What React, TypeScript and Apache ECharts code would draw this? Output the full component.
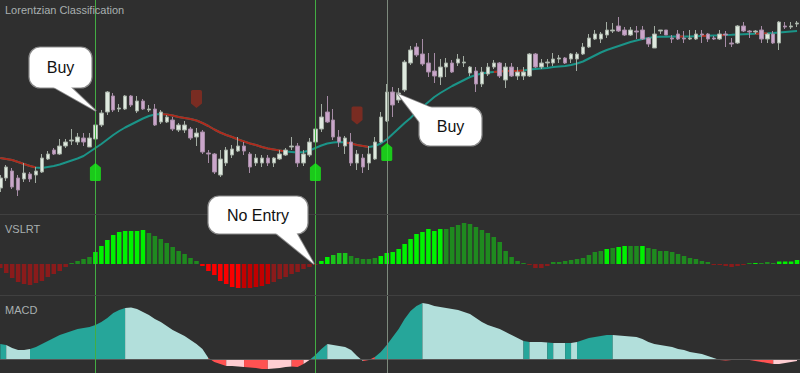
import React, { useEffect, useRef } from "react";
import * as echarts from "echarts";

// ---------- Price pane (OHLC) ----------
const opens = [
  62, 72, 79, 72, 71, 76, 75, 78, 91, 100,
  96, 104, 109, 108, 112, 103, 111, 125, 138, 154,
  141, 141, 154, 139, 149, 140, 141, 128, 128, 130,
  120, 120, 121, 113, 118, 97, 96, 75, 87, 95,
  99, 104, 96, 87, 87, 92, 87, 91, 95, 103,
  104, 87, 95, 108, 121, 138, 130, 113, 104, 108,
  87, 92, 87, 91, 108, 129, 158, 150, 160, 187,
  203, 196, 187, 179, 173, 183, 187, 187, 187, 177,
  179, 166, 176, 183, 187, 170, 183, 174, 174, 174,
  196, 183, 187, 187, 191, 192, 191, 191, 196, 203,
  211, 211, 215, 219, 224, 220, 215, 219, 220, 212,
  202, 219, 220, 212, 216, 212, 211, 211, 216, 216,
  212, 211, 216, 207, 207, 224, 219, 218, 220, 211,
  216, 207, 224, 223, 226,
];
const closes = [
  72, 83, 63, 60, 77, 71, 79, 92, 96, 96,
  104, 108, 110, 113, 108, 112, 125, 137, 158, 140,
  142, 154, 145, 149, 141, 141, 125, 138, 133, 121,
  125, 125, 112, 117, 98, 96, 78, 91, 100, 101,
  104, 99, 83, 92, 92, 87, 92, 96, 100, 104,
  87, 96, 108, 121, 133, 128, 113, 108, 112, 87,
  96, 83, 96, 108, 133, 158, 145, 157, 188, 200,
  195, 186, 178, 174, 183, 187, 178, 191, 188, 183,
  166, 178, 183, 187, 174, 183, 174, 178, 178, 196,
  183, 187, 188, 191, 192, 187, 196, 196, 203, 212,
  216, 216, 220, 220, 219, 215, 220, 218, 211, 206,
  216, 220, 215, 211, 211, 211, 212, 216, 215, 211,
  211, 216, 215, 206, 224, 219, 218, 219, 211, 216,
  207, 228, 223, 224, 227,
];
const highs = [
  75, 85, 82, 75, 87, 78, 83, 96, 99, 102,
  111, 111, 121, 117, 117, 117, 126, 140, 159, 157,
  146, 155, 155, 154, 151, 145, 146, 140, 135, 133,
  127, 129, 123, 122, 120, 100, 97, 100, 103, 105,
  113, 108, 98, 96, 95, 95, 93, 100, 102, 113,
  107, 100, 112, 127, 146, 154, 141, 120, 114, 117,
  100, 96, 104, 113, 138, 166, 163, 162, 190, 204,
  207, 211, 197, 197, 191, 192, 190, 196, 194, 184,
  183, 183, 187, 190, 188, 187, 187, 183, 183, 197,
  197, 191, 191, 197, 195, 193, 197, 198, 207, 216,
  220, 218, 228, 227, 233, 223, 223, 224, 224, 213,
  224, 220, 220, 215, 220, 219, 220, 220, 220, 217,
  214, 220, 219, 212, 225, 228, 220, 220, 224, 217,
  219, 229, 228, 228, 229,
];
const lows = [
  58, 69, 61, 54, 68, 68, 67, 77, 90, 95,
  95, 102, 105, 105, 104, 103, 108, 123, 135, 138,
  138, 140, 143, 137, 140, 138, 124, 126, 127, 119,
  118, 117, 110, 104, 96, 87, 76, 73, 84, 92,
  98, 95, 77, 84, 83, 84, 83, 90, 94, 100,
  83, 84, 93, 107, 118, 127, 110, 103, 96, 84,
  80, 77, 80, 90, 107, 128, 133, 147, 158, 185,
  193, 184, 173, 167, 165, 173, 177, 184, 183, 174,
  158, 163, 174, 181, 172, 162, 173, 170, 170, 173,
  182, 181, 183, 184, 187, 186, 187, 179, 195, 202,
  210, 207, 212, 217, 218, 214, 214, 211, 210, 203,
  202, 216, 215, 207, 210, 207, 210, 210, 207, 208,
  210, 210, 203, 203, 206, 218, 212, 216, 207, 207,
  206, 200, 221, 221, 223,
];
const maValues = [
  92, 91, 90, 88, 86, 84, 82.5, 82, 83, 84,
  85.5, 87.5, 89.5, 91.5, 94, 98, 102, 106, 110.5, 115,
  119, 122.5, 125.5, 128.5, 131.5, 134, 135.5, 136, 135.5, 134.5,
  133, 132, 131, 129.5, 127, 124, 120.5, 117.5, 115, 113,
  110.5, 108.5, 106.5, 105, 103, 101.5, 100.5, 99.5, 98.5, 98,
  97.5, 98, 99.5, 102, 104.5, 106.5, 107.5, 108, 107.5, 106.5,
  105, 104, 103, 104, 106.5, 110.5, 116, 121.5, 127, 132,
  138, 143, 148, 153, 157, 160.5, 164, 167, 170, 173,
  175, 176.5, 177.5, 178, 178.5, 179, 179, 179, 179.5, 180.5,
  181, 181.5, 182, 183, 183.5, 184, 185, 186.5, 188.5, 191.5,
  194.5, 197.5, 200, 202, 204, 206, 208, 209.5, 211, 212,
  213, 213.2, 213.3, 213.4, 213.5, 213.5, 213.6, 213.8, 214, 214.2,
  214.5, 214.7, 215, 215.2, 215.5, 215.8, 216, 216.2, 216.5, 216.8,
  217, 217.5, 218, 218.5, 219,
];
// intervals [start, end] (segment i -> i+1) where the MA is red
const maRedRuns = [
  [0, 5], [27, 47], [58, 61], [83, 87], [114, 114], [118, 118], [121, 121], [127, 128],
];
const buySignals = [16, 53, 65];
const buyMarkerPrices = [78, 78, 98];
const sellSignals = [33, 60];
const sellMarkerPrices = [151, 134.5];
// which buy signals get a bright green guide line (the others a grey one)
const greenGuideSignals = [16, 53];
const greyGuideSignals = [65];

// ---------- VSLRT pane ----------
const vslrtValues = [
  -4, -9, -14, -18, -20, -21, -19, -17, -13, -10,
  -7, -3, 1, 3, 5, 7, 12, 18, 24, 29,
  32, 33, 33, 33, 34, 31, 28, 25, 21, 17,
  13, 10, 6, 3, -2, -7, -11, -17, -20, -23,
  -24, -24, -24, -23, -22, -20, -18, -15, -13, -10,
  -8, -5, -3, -1, 3, 7, 9, 11, 11, 8,
  6, 5, 5, 6, 8, 11, 12, 15, 20, 25,
  30, 32, 35, 33, 35, 35, 37, 39, 41, 40,
  37, 34, 31, 27, 22, 13, 7, 3, 1, -1,
  -4, -4, -2, 2, 2, 3, 4, 5, 6, 9,
  12, 13, 15, 16, 17, 18, 18, 18, 18, 16,
  15, 13, 13, 12, 10, 8, 6, 5, 3, 2,
  -1, -1, -2, -3, -2, -1, 0.5, 1, 1, 2,
  1, 2.5, 2.5, 2.5, 4,
];
const vslrtColorRuns: [string, number, number][] = [
  ["r", 0, 11], ["g", 12, 15], ["G", 16, 24], ["g", 25, 33], ["R", 34, 40], ["m", 41, 45],
  ["r", 46, 53], ["G", 54, 55], ["h", 56, 58], ["g", 59, 63], ["G", 64, 74], ["g", 75, 88],
  ["r", 89, 92], ["g", 93, 101], ["G", 102, 102], ["g", 103, 103], ["G", 104, 105],
  ["g", 106, 107], ["G", 108, 108], ["g", 109, 119], ["r", 120, 125], ["G", 126, 127],
  ["g", 128, 130], ["G", 131, 134],
];

// ---------- MACD pane ----------
const macdValues = [
  15, 14, 11, 9, 9, 10, 12, 15, 18, 21,
  24, 26, 28, 30, 31, 32, 34, 37, 41, 46,
  49, 51, 51.5, 50, 47, 44, 40, 37, 33, 29,
  26, 23, 19, 15, 10, 1, -3, -5, -7, -7,
  -7.5, -8, -8.5, -9, -10, -10, -9.5, -9, -8, -7.5,
  -8, -5, -1, 4, 10, 15, 14, 13, 12, 9,
  3, -2, -1, 2, 7, 14, 22, 30, 40, 48,
  53, 56, 55, 53, 52, 51, 50, 49, 47, 45,
  41, 37, 34, 32, 30, 27, 24, 21, 18, 17,
  17, 17, 16.5, 16, 16, 16, 16, 17, 19, 21,
  22, 23, 24, 24, 23.5, 23, 22.5, 22, 20, 17,
  15, 14, 13, 12, 10, 9, 7, 6, 5, 3,
  1, -1, -1.5, -1, -1, -0.5, -1, -2, -3, -4,
  -5, -5, -4, -3, -2,
];
const macdColorRuns: [string, number, number][] = [
  ["D", 0, 0], ["L", 1, 4], ["D", 5, 20], ["L", 21, 34], ["R", 35, 37], ["P", 38, 40],
  ["R", 41, 44], ["P", 45, 48], ["R", 49, 50], ["P", 51, 51], ["D", 52, 54], ["L", 55, 60],
  ["R", 61, 62], ["D", 63, 70], ["L", 71, 87], ["D", 88, 88], ["L", 89, 91], ["D", 92, 92],
  ["L", 93, 94], ["D", 95, 95], ["L", 96, 96], ["D", 97, 102], ["L", 103, 120],
  ["R", 121, 122], ["P", 123, 125], ["R", 126, 129], ["P", 130, 133],
];

const categories = opens.map((_, i) => String(i + 1));

const vslrtPalette: Record<string, string> = {
  G: "#00f200", h: "#1bc41b", g: "#1f8a1f", R: "#fa0000", m: "#c20000", r: "#8a1b1b",
};
const macdPalette: Record<string, string> = {
  D: "#26a69a", L: "#b2dfdb", R: "#ff5252", P: "#ffcdd2",
};

const BUY_PATH = "path://M5,0 L10,4.5 L10,16.5 Q10,18 8.5,18 L1.5,18 Q0,18 0,16.5 L0,4.5 Z";
const SELL_PATH = "path://M1.5,0 L8.5,0 Q10,0 10,1.5 L10,13.5 L5,18 L0,13.5 L0,1.5 Q0,0 1.5,0 Z";

function buildOption() {
  const guideSeries = (pane: number, idxs: number[], color: string) => ({
    type: "line",
    xAxisIndex: pane,
    yAxisIndex: pane,
    data: [],
    silent: true,
    z: 4,
    markLine: {
      silent: true,
      symbol: ["none", "none"],
      label: { show: false },
      lineStyle: { color, width: 1, type: "solid", opacity: 1 },
      data: idxs.map((idx) => ({ xAxis: idx })),
    },
  });

  const vslrtColors: string[] = [];
  vslrtColorRuns.forEach(([c, s, e]) => {
    for (let i = s; i <= e; i++) vslrtColors[i] = vslrtPalette[c];
  });

  const series: any[] = [];
  // MACD areas
  macdColorRuns.forEach(([c, s, e], k) => {
    series.push({
      type: "line",
      xAxisIndex: 2,
      yAxisIndex: 2,
      data: macdValues.map((v, i) => (i >= s && i <= e + 1 ? v : "-")),
      showSymbol: false,
      silent: true,
      lineStyle: { width: 0, opacity: 0 },
      areaStyle: { color: macdPalette[c], opacity: 1 },
      z: 2,
      markLine:
        k === 0
          ? {
              silent: true,
              symbol: ["none", "none"],
              label: { show: false },
              lineStyle: { color: "#575757", width: 1, type: "solid" },
              data: [{ yAxis: 0 }],
            }
          : undefined,
    });
  });
  // VSLRT bars
  series.push({
    type: "bar",
    xAxisIndex: 1,
    yAxisIndex: 1,
    barCategoryGap: "24%",
    silent: true,
    data: vslrtValues.map((v, i) => ({ value: v, itemStyle: { color: vslrtColors[i] } })),
  });
  // MA teal (full) + red overlays
  series.push({
    type: "line",
    xAxisIndex: 0,
    yAxisIndex: 0,
    data: maValues,
    showSymbol: false,
    silent: true,
    lineStyle: { color: "#1b9488", width: 2 },
    z: 2,
  });
  maRedRuns.forEach(([s, e]) => {
    series.push({
      type: "line",
      xAxisIndex: 0,
      yAxisIndex: 0,
      data: maValues.map((v, i) => (i >= s && i <= e + 1 ? v : "-")),
      showSymbol: false,
      silent: true,
      lineStyle: { color: "#b0291c", width: 2 },
      z: 2,
    });
  });
  // candles
  series.push({
    type: "candlestick",
    xAxisIndex: 0,
    yAxisIndex: 0,
    barWidth: 4,
    silent: true,
    z: 3,
    data: opens.map((o, i) => [o, closes[i], lows[i], highs[i]]),
    itemStyle: {
      color: "#dfe9df",
      color0: "#caa6ca",
      borderColor: "#a3ada3",
      borderColor0: "#a68ca6",
      borderWidth: 1,
    },
  });
  // guide lines at the buy signals, in every pane
  [0, 1, 2].forEach((p) => {
    series.push(guideSeries(p, greenGuideSignals, "#43ad43"));
    series.push(guideSeries(p, greyGuideSignals, "#7d8a7d"));
  });
  // signal markers
  series.push({
    type: "scatter",
    xAxisIndex: 0,
    yAxisIndex: 0,
    symbol: BUY_PATH,
    symbolSize: [11, 18],
    silent: true,
    z: 6,
    itemStyle: { color: "#16f016" },
    data: buySignals.map((idx, k) => [idx, buyMarkerPrices[k]]),
  });
  series.push({
    type: "scatter",
    xAxisIndex: 0,
    yAxisIndex: 0,
    symbol: SELL_PATH,
    symbolSize: [11, 18],
    silent: true,
    z: 6,
    itemStyle: { color: "#8c2c1f" },
    data: sellSignals.map((idx, k) => [idx, sellMarkerPrices[k]]),
  });

  const labelFont = '11px "Liberation Sans", Arial, sans-serif';
  const label = (text: string, y: number) => ({
    type: "text",
    z: 50,
    silent: true,
    style: { text, x: 5, y, fill: "#a9b0b0", font: labelFont, textVerticalAlign: "middle" },
  });
  const sep = (y: number) => ({
    type: "line",
    z: 40,
    silent: true,
    shape: { x1: 0, y1: y, x2: 800, y2: y },
    style: { stroke: "#404040", lineWidth: 1 },
  });
  const callout = (
    text: string,
    r: { x: number; y: number; w: number; h: number },
    tail: number[][],
  ) => ({
    type: "group",
    z: 100,
    silent: true,
    children: [
      {
        type: "polygon",
        z: 100,
        shape: { points: tail },
        style: { fill: "#ffffff", stroke: "#8a8a8a", lineWidth: 1.8 },
      },
      {
        type: "rect",
        z: 101,
        shape: { x: r.x, y: r.y, width: r.w, height: r.h, r: 11 },
        style: { fill: "#ffffff", stroke: "#8a8a8a", lineWidth: 1.2 },
      },
      { type: "polygon", z: 102, shape: { points: tail }, style: { fill: "#ffffff" } },
      {
        type: "text",
        z: 103,
        style: {
          text,
          x: r.x + r.w / 2,
          y: r.y + r.h / 2,
          fill: "#111111",
          font: '16px "Liberation Sans", Arial, sans-serif',
          textAlign: "center",
          textVerticalAlign: "middle",
        },
      },
    ],
  });

  const gridBase = { left: -2.7, right: 0, outerBoundsMode: "none", containLabel: false };
  return {
    animation: false,
    backgroundColor: "#2f2f2f",
    grid: [
      { ...gridBase, top: 0, height: 214 },
      { ...gridBase, top: 214, height: 81 },
      { ...gridBase, top: 295, height: 78 },
    ],
    xAxis: [0, 1, 2].map((g) => ({
      type: "category",
      gridIndex: g,
      data: categories,
      boundaryGap: true,
      show: false,
    })),
    yAxis: [
      { type: "value", gridIndex: 0, min: 36, max: 250, show: false },
      { type: "value", gridIndex: 1, min: -31, max: 50, show: false },
      { type: "value", gridIndex: 2, min: -14, max: 64, show: false },
    ],
    series,
    graphic: [
      sep(214.5),
      sep(295.5),
      label("Lorentzian Classification", 10),
      label("VSLRT", 228.5),
      label("MACD", 310),
      callout("Buy", { x: 29, y: 47, w: 63, h: 41 }, [[48, 84], [66, 82.5], [96, 111]]),
      callout("Buy", { x: 419, y: 107, w: 63, h: 39 }, [[424.7, 128.8], [437.5, 110.3], [398, 94]]),
      callout("No Entry", { x: 208, y: 196, w: 100, h: 38 }, [[271.5, 229.6], [293.6, 227.9], [314, 264]]),
    ],
  };
}

export default function App() {
  const ref = useRef<HTMLDivElement>(null);
  useEffect(() => {
    if (!ref.current) return;
    const chart = echarts.init(ref.current, null, { renderer: "svg" });
    chart.setOption(buildOption() as any);
    return () => chart.dispose();
  }, []);
  return (
    <div
      ref={ref}
      style={{ position: "absolute", left: 0, top: 0, width: 800, height: 373 }}
    />
  );
}
